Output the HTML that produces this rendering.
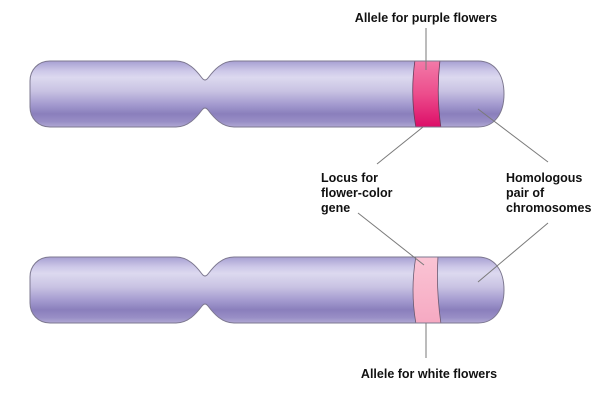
<!DOCTYPE html>
<html><head><meta charset="utf-8"><style>
html,body{margin:0;padding:0;background:#fff;}
svg{display:block;}
text{font-family:"Liberation Sans",Arial,sans-serif;font-weight:bold;font-size:12.5px;fill:#111;}
</style></head><body>
<svg width="607" height="402" viewBox="0 0 607 402" xmlns="http://www.w3.org/2000/svg">
<defs>
<linearGradient id="chr" x1="0" y1="61" x2="0" y2="127" gradientUnits="userSpaceOnUse">
<stop offset="0" stop-color="#a79fd2"/>
<stop offset="0.15" stop-color="#cdc8e8"/>
<stop offset="0.25" stop-color="#dcd9ef"/>
<stop offset="0.45" stop-color="#c9c3e3"/>
<stop offset="0.65" stop-color="#a59cd0"/>
<stop offset="0.8" stop-color="#8a7fbc"/>
<stop offset="0.92" stop-color="#998fc6"/>
<stop offset="1" stop-color="#b0a8d4"/>
</linearGradient>
<linearGradient id="pk" x1="0" y1="61" x2="0" y2="127" gradientUnits="userSpaceOnUse">
<stop offset="0" stop-color="#f27aa8"/>
<stop offset="0.5" stop-color="#ec4d8c"/>
<stop offset="1" stop-color="#dc0d68"/>
</linearGradient>
<linearGradient id="lp" x1="0" y1="61" x2="0" y2="127" gradientUnits="userSpaceOnUse">
<stop offset="0" stop-color="#fac4d4"/>
<stop offset="1" stop-color="#f6a9c2"/>
</linearGradient>
<path id="cshape" d="M50,61 H176 C188,61 196,70 202,78 Q205,82 208,78 C214,70 222,61 234,61 H478 C495,61 504,75 504,94 C504,113 495,127 478,127 H234 C222,127 214,118 208,110 Q205,106 202,110 C196,118 188,127 176,127 H50 C38,127 30,118 30,107 V81 C30,70 38,61 50,61 Z"/>
<clipPath id="cc"><use href="#cshape"/></clipPath>
</defs>

<!-- top chromosome -->
<g>
<use href="#cshape" fill="url(#chr)"/>
<g clip-path="url(#cc)">
<path d="M415,60 Q410,94 416,128 H441 Q436,94 440,60 Z" fill="url(#pk)" stroke="#6a3a5a" stroke-width="0.8"/>
</g>
<use href="#cshape" fill="none" stroke="#7d7890" stroke-width="1"/>
</g>

<!-- bottom chromosome -->
<g transform="translate(0,196)">
<use href="#cshape" fill="url(#chr)"/>
<g clip-path="url(#cc)">
<path d="M416,60 Q410,94 416,128 H441 Q436,94 438,60 Z" fill="url(#lp)" stroke="#6a5a70" stroke-width="0.8"/>
</g>
<use href="#cshape" fill="none" stroke="#7d7890" stroke-width="1"/>
</g>

<!-- leader lines -->
<g stroke="#7a7a7a" stroke-width="1" fill="none">
<line x1="426" y1="28" x2="426" y2="70"/>
<line x1="423" y1="127" x2="377" y2="164"/>
<line x1="358" y1="213" x2="424" y2="265"/>
<line x1="478" y1="109" x2="548" y2="162"/>
<line x1="548" y1="223" x2="478" y2="282"/>
<line x1="426" y1="323" x2="426" y2="358"/>
</g>

<!-- labels -->
<text x="426" y="22" text-anchor="middle">Allele for purple flowers</text>
<text x="321" y="182">Locus for</text>
<text x="321" y="197">flower-color</text>
<text x="321" y="212">gene</text>
<text x="506" y="182">Homologous</text>
<text x="506" y="197">pair of</text>
<text x="506" y="212">chromosomes</text>
<text x="429" y="378" text-anchor="middle">Allele for white flowers</text>
</svg>
</body></html>
